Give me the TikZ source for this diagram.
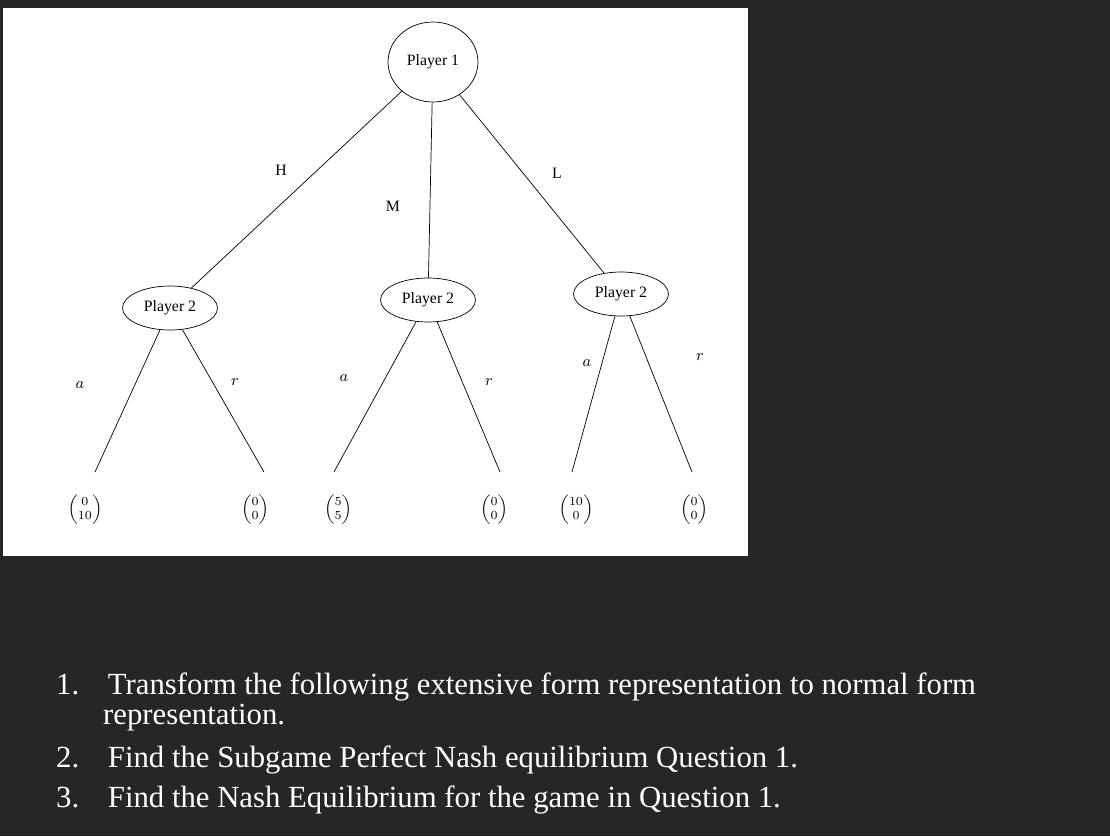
\documentclass[tikz,border=0pt]{standalone}
\usepackage{amsmath}
\usepackage{fontspec}
\setmainfont{Liberation Serif}
\usetikzlibrary{shapes.geometric}
\definecolor{bgc}{HTML}{262626}
\begin{document}
\begin{tikzpicture}[x=0.02cm,y=-0.02cm,
  pl/.style={draw,ellipse,inner sep=0pt,font=\fontsize{9}{10}\selectfont},
  lab/.style={font=\fontsize{9}{10}\selectfont},
  pay/.style={font=\fontsize{7}{8}\selectfont,inner sep=0pt},
  q/.style={text=white,font=\fontsize{17.5}{20}\selectfont,anchor=west}]
\fill[bgc] (0,0) rectangle (1110,836);
\useasboundingbox (0,0) rectangle (1110,836);
\fill[white] (3,8) rectangle (748,556);
\node[pl,minimum width=90\pgflinewidth,minimum width=1.8cm,minimum height=1.6cm] (p1) at (433,62) {Player 1};
\node[pl,minimum width=1.9cm,minimum height=0.88cm] (p2l) at (170,308) {Player 2};
\node[pl,minimum width=1.9cm,minimum height=0.88cm] (p2m) at (428,300) {Player 2};
\node[pl,minimum width=1.9cm,minimum height=0.88cm] (p2r) at (621,294) {Player 2};
\draw (p1) -- (p2l); \draw (p1) -- (p2m); \draw (p1) -- (p2r);
\node[lab] (lh) at (281,170) {H};
\node[lab] (lm) at (393,206) {M};
\node[lab] (ll) at (557,173) {L};
\node[pay] (t1) at (85,510) {$\begin{pmatrix}0\\10\end{pmatrix}$};
\node[pay] (t2) at (255,510) {$\begin{pmatrix}0\\0\end{pmatrix}$};
\node[pay] (t3) at (338,510) {$\begin{pmatrix}5\\5\end{pmatrix}$};
\node[pay] (t4) at (494,510) {$\begin{pmatrix}0\\0\end{pmatrix}$};
\node[pay] (t5) at (576,510) {$\begin{pmatrix}10\\0\end{pmatrix}$};
\node[pay] (t6) at (694,510) {$\begin{pmatrix}0\\0\end{pmatrix}$};
\coordinate (e1) at (95,472); \coordinate (e2) at (264,472);
\coordinate (e3) at (334,472); \coordinate (e4) at (500,472);
\coordinate (e5) at (572,472); \coordinate (e6) at (692,472);
\draw (p2l) -- (e1); \draw (p2l) -- (e2);
\draw (p2m) -- (e3); \draw (p2m) -- (e4);
\draw (p2r) -- (e5); \draw (p2r) -- (e6);
\node[lab] (a1) at (80,385) {$a$};
\node[lab] (r1) at (235,382) {$r$};
\node[lab] (a2) at (344,378) {$a$};
\node[lab] (r2) at (489,382) {$r$};
\node[lab] (a3) at (587,363) {$a$};
\node[lab] (r3) at (700,357) {$r$};
\node[q] (q1) at (50,687) {1.\hspace{0.6em} Transform the following extensive form representation to normal form};
\node[q] (q1b) at (97,718) {representation.};
\node[q] (q2) at (50,760) {2.\hspace{0.6em} Find the Subgame Perfect Nash equilibrium Question 1.};
\node[q] (q3) at (50,800) {3.\hspace{0.6em} Find the Nash Equilibrium for the game in Question 1.};
\end{tikzpicture}
\end{document}
